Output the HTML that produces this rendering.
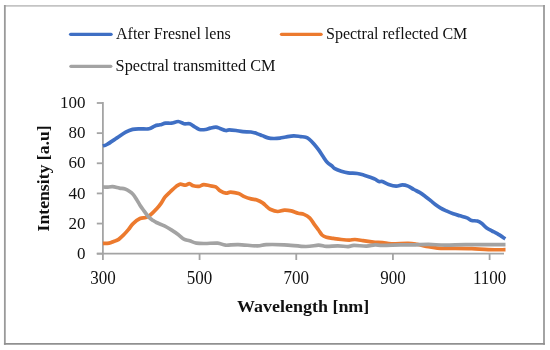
<!DOCTYPE html>
<html><head><meta charset="utf-8"><style>
html,body{margin:0;padding:0;background:#fff;width:550px;height:350px;overflow:hidden}
svg{display:block;will-change:transform}
text{font-family:"Liberation Serif",serif;fill:#111}
.lg{font-size:16px}
.tk{font-size:17px}
.at{font-size:17.2px;font-weight:bold}
</style></head><body>
<svg width="550" height="350" viewBox="0 0 550 350">
<line x1="3.95" y1="5.9" x2="544.9" y2="5.9" stroke="#c4c4c4" stroke-width="1.8"/>
<line x1="4.85" y1="5" x2="4.85" y2="344.8" stroke="#9a9a9a" stroke-width="1.8"/>
<line x1="544" y1="5" x2="544" y2="344.8" stroke="#9a9a9a" stroke-width="1.8"/>
<line x1="3.95" y1="343.9" x2="544.9" y2="343.9" stroke="#909090" stroke-width="1.8"/>
<line x1="70.6" y1="34.3" x2="111.1" y2="34.3" stroke="#3f6fc4" stroke-width="3.3" stroke-linecap="round"/>
<text x="116" y="38.8" class="lg">After Fresnel lens</text>
<line x1="281.5" y1="34.3" x2="321.1" y2="34.3" stroke="#ec7a2e" stroke-width="3.3" stroke-linecap="round"/>
<text x="326" y="38.8" class="lg">Spectral reflected CM</text>
<line x1="70.9" y1="66.3" x2="110.8" y2="66.3" stroke="#a3a3a3" stroke-width="3.3" stroke-linecap="round"/>
<text class="lg" transform="translate(115.6,71) scale(1.018,1)">Spectral transmitted CM</text>
<line x1="102.9" y1="102.1" x2="102.9" y2="253.7" stroke="#a4a4a4" stroke-width="1.8"/>
<line x1="96.8" y1="253.7" x2="504" y2="253.7" stroke="#a4a4a4" stroke-width="1.8"/>
<line x1="96.8" y1="103.00" x2="103" y2="103.00" stroke="#a4a4a4" stroke-width="1.8"/>
<text class="tk" text-anchor="end" transform="translate(85.5,108.10) scale(1,1.04)">100</text>
<line x1="96.8" y1="133.14" x2="103" y2="133.14" stroke="#a4a4a4" stroke-width="1.8"/>
<text class="tk" text-anchor="end" transform="translate(85.5,138.24) scale(1,1.04)">80</text>
<line x1="96.8" y1="163.28" x2="103" y2="163.28" stroke="#a4a4a4" stroke-width="1.8"/>
<text class="tk" text-anchor="end" transform="translate(85.5,168.38) scale(1,1.04)">60</text>
<line x1="96.8" y1="193.42" x2="103" y2="193.42" stroke="#a4a4a4" stroke-width="1.8"/>
<text class="tk" text-anchor="end" transform="translate(85.5,198.52) scale(1,1.04)">40</text>
<line x1="96.8" y1="223.56" x2="103" y2="223.56" stroke="#a4a4a4" stroke-width="1.8"/>
<text class="tk" text-anchor="end" transform="translate(85.5,228.66) scale(1,1.04)">20</text>
<line x1="96.8" y1="253.70" x2="103" y2="253.70" stroke="#a4a4a4" stroke-width="1.8"/>
<text class="tk" text-anchor="end" transform="translate(85.5,258.80) scale(1,1.04)">0</text>
<line x1="102.90" y1="253.7" x2="102.90" y2="260" stroke="#a4a4a4" stroke-width="1.8"/>
<text class="tk" text-anchor="middle" transform="translate(102.90,283.5) scale(1,1.05)">300</text>
<line x1="199.57" y1="253.7" x2="199.57" y2="260" stroke="#a4a4a4" stroke-width="1.8"/>
<text class="tk" text-anchor="middle" transform="translate(199.57,283.5) scale(1,1.05)">500</text>
<line x1="296.25" y1="253.7" x2="296.25" y2="260" stroke="#a4a4a4" stroke-width="1.8"/>
<text class="tk" text-anchor="middle" transform="translate(296.25,283.5) scale(1,1.05)">700</text>
<line x1="392.92" y1="253.7" x2="392.92" y2="260" stroke="#a4a4a4" stroke-width="1.8"/>
<text class="tk" text-anchor="middle" transform="translate(392.92,283.5) scale(1,1.05)">900</text>
<line x1="489.60" y1="253.7" x2="489.60" y2="260" stroke="#a4a4a4" stroke-width="1.8"/>
<text class="tk" text-anchor="middle" transform="translate(489.60,283.5) scale(1,1.05)">1100</text>
<text class="at" text-anchor="middle" transform="translate(303.2,312.3) scale(1.045,1)">Wavelength [nm]</text>
<text x="0" y="0" class="at" text-anchor="middle" transform="translate(49.3,178.4) rotate(-90) scale(1.03,1)">Intensity [a.u]</text>
<path d="M102.90,145.90 C103.57,145.67 104.55,145.83 106.90,144.50 C109.25,143.17 113.87,139.95 117.00,137.90 C120.13,135.85 123.10,133.62 125.70,132.20 C128.30,130.78 130.22,129.97 132.60,129.40 C134.98,128.83 137.27,128.90 140.00,128.80 C142.73,128.70 146.52,129.28 149.00,128.80 C151.48,128.32 153.07,126.57 154.90,125.90 C156.73,125.23 158.20,125.25 160.00,124.80 C161.80,124.35 163.80,123.47 165.70,123.20 C167.60,122.93 169.30,123.48 171.40,123.20 C173.50,122.92 176.20,121.40 178.30,121.50 C180.40,121.60 182.10,123.42 184.00,123.80 C185.90,124.18 187.98,123.33 189.70,123.80 C191.42,124.27 192.68,125.65 194.30,126.60 C195.92,127.55 197.50,129.02 199.40,129.50 C201.30,129.98 203.88,129.73 205.70,129.50 C207.52,129.27 208.58,128.48 210.30,128.10 C212.02,127.72 214.38,127.13 216.00,127.20 C217.62,127.27 218.38,127.95 220.00,128.50 C221.62,129.05 224.18,130.27 225.70,130.50 C227.22,130.73 227.38,129.90 229.10,129.90 C230.82,129.90 233.70,130.22 236.00,130.50 C238.30,130.78 240.42,131.35 242.90,131.60 C245.38,131.85 248.62,131.70 250.90,132.00 C253.18,132.30 254.70,132.80 256.60,133.40 C258.50,134.00 260.40,134.85 262.30,135.60 C264.20,136.35 266.10,137.42 268.00,137.90 C269.90,138.38 271.70,138.47 273.70,138.50 C275.70,138.53 278.00,138.35 280.00,138.10 C282.00,137.85 283.42,137.38 285.70,137.00 C287.98,136.62 291.22,135.87 293.70,135.80 C296.18,135.73 298.60,136.37 300.60,136.60 C302.60,136.83 304.28,136.78 305.70,137.20 C307.12,137.62 307.77,138.02 309.10,139.10 C310.43,140.18 312.17,141.98 313.70,143.70 C315.23,145.42 316.77,147.30 318.30,149.40 C319.83,151.50 321.38,154.10 322.90,156.30 C324.42,158.50 325.88,160.98 327.40,162.60 C328.92,164.22 330.83,165.03 332.00,166.00 C333.17,166.97 332.85,167.53 334.40,168.40 C335.95,169.27 339.02,170.45 341.30,171.20 C343.58,171.95 345.43,172.52 348.10,172.90 C350.77,173.28 354.63,173.12 357.30,173.50 C359.97,173.88 361.82,174.53 364.10,175.20 C366.38,175.87 369.18,176.85 371.00,177.50 C372.82,178.15 373.67,178.43 375.00,179.10 C376.33,179.77 377.77,181.10 379.00,181.50 C380.23,181.90 380.78,181.02 382.40,181.50 C384.02,181.98 386.42,183.63 388.70,184.40 C390.98,185.17 393.82,186.02 396.10,186.10 C398.38,186.18 400.40,184.90 402.40,184.90 C404.40,184.90 406.18,185.33 408.10,186.10 C410.02,186.87 411.98,188.45 413.90,189.50 C415.82,190.55 417.70,191.25 419.60,192.40 C421.50,193.55 423.40,194.98 425.30,196.40 C427.20,197.82 429.38,199.60 431.00,200.90 C432.62,202.20 433.38,203.00 435.00,204.20 C436.62,205.40 438.80,206.98 440.70,208.10 C442.60,209.22 444.30,209.95 446.40,210.90 C448.50,211.85 451.02,212.98 453.30,213.80 C455.58,214.62 457.82,215.12 460.10,215.80 C462.38,216.48 465.08,217.13 467.00,217.90 C468.92,218.67 469.88,219.87 471.60,220.40 C473.32,220.93 475.58,220.57 477.30,221.10 C479.02,221.63 480.33,222.45 481.90,223.60 C483.47,224.75 485.00,226.77 486.70,228.00 C488.40,229.23 490.33,230.05 492.10,231.00 C493.87,231.95 495.10,232.38 497.30,233.70 C499.50,235.02 503.97,238.03 505.30,238.90" fill="none" stroke="#3f6fc4" stroke-width="3.7" stroke-linejoin="round"/>
<path d="M102.90,243.40 C103.93,243.35 107.30,243.43 109.10,243.10 C110.90,242.77 112.17,241.98 113.70,241.40 C115.23,240.82 116.58,240.75 118.30,239.60 C120.02,238.45 122.28,236.20 124.00,234.50 C125.72,232.80 127.08,231.22 128.60,229.40 C130.12,227.58 131.20,225.42 133.10,223.60 C135.00,221.78 137.90,219.50 140.00,218.50 C142.10,217.50 143.98,218.18 145.70,217.60 C147.42,217.02 148.43,216.50 150.30,215.00 C152.17,213.50 155.05,210.62 156.90,208.60 C158.75,206.58 160.07,204.80 161.40,202.90 C162.73,201.00 163.37,199.10 164.90,197.20 C166.43,195.30 168.70,193.30 170.60,191.50 C172.50,189.70 174.68,187.63 176.30,186.40 C177.92,185.17 178.78,184.30 180.30,184.10 C181.82,183.90 183.88,185.27 185.40,185.20 C186.92,185.13 188.07,183.60 189.40,183.70 C190.73,183.80 191.78,185.35 193.40,185.80 C195.02,186.25 197.38,186.60 199.10,186.40 C200.82,186.20 201.88,184.70 203.70,184.60 C205.52,184.50 208.00,185.42 210.00,185.80 C212.00,186.18 213.98,186.05 215.70,186.90 C217.42,187.75 218.58,189.85 220.30,190.90 C222.02,191.95 224.28,193.00 226.00,193.20 C227.72,193.40 228.50,192.03 230.60,192.10 C232.70,192.17 236.32,192.85 238.60,193.60 C240.88,194.35 242.22,195.72 244.30,196.60 C246.38,197.48 249.00,198.32 251.10,198.90 C253.20,199.48 254.98,199.43 256.90,200.10 C258.82,200.77 260.90,201.77 262.60,202.90 C264.30,204.03 265.85,205.85 267.10,206.90 C268.35,207.95 268.35,208.43 270.10,209.20 C271.85,209.97 275.22,211.35 277.60,211.50 C279.98,211.65 282.12,210.20 284.40,210.10 C286.68,210.00 289.02,210.38 291.30,210.90 C293.58,211.42 296.00,212.62 298.10,213.20 C300.20,213.78 301.98,213.63 303.90,214.40 C305.82,215.17 307.90,216.18 309.60,217.80 C311.30,219.42 312.62,222.07 314.10,224.10 C315.58,226.13 317.18,228.18 318.50,230.00 C319.82,231.82 320.68,233.78 322.00,235.00 C323.32,236.22 324.52,236.73 326.40,237.30 C328.28,237.87 330.82,238.03 333.30,238.40 C335.78,238.77 338.63,239.22 341.30,239.50 C343.97,239.78 347.02,240.10 349.30,240.10 C351.58,240.10 352.72,239.42 355.00,239.50 C357.28,239.58 360.52,240.25 363.00,240.60 C365.48,240.95 367.90,241.32 369.90,241.60 C371.90,241.88 372.88,242.15 375.00,242.30 C377.12,242.45 379.85,242.25 382.60,242.50 C385.35,242.75 387.25,243.67 391.50,243.80 C395.75,243.93 403.85,243.22 408.10,243.30 C412.35,243.38 413.60,243.72 417.00,244.30 C420.40,244.88 425.10,246.17 428.50,246.80 C431.90,247.43 434.65,247.82 437.40,248.10 C440.15,248.38 442.02,248.45 445.00,248.50 C447.98,248.55 450.83,248.37 455.30,248.40 C459.77,248.43 466.28,248.48 471.80,248.70 C477.32,248.92 482.78,249.53 488.40,249.70 C494.02,249.87 502.65,249.70 505.50,249.70" fill="none" stroke="#ec7a2e" stroke-width="3.7" stroke-linejoin="round"/>
<path d="M102.90,186.90 C103.57,186.95 105.28,187.23 106.90,187.20 C108.52,187.17 110.52,186.55 112.60,186.70 C114.68,186.85 117.32,187.72 119.40,188.10 C121.48,188.48 123.38,188.43 125.10,189.00 C126.82,189.57 128.37,190.60 129.70,191.50 C131.03,192.40 131.95,193.07 133.10,194.40 C134.25,195.73 135.45,197.70 136.60,199.50 C137.75,201.30 138.77,203.30 140.00,205.20 C141.23,207.10 142.77,209.18 144.00,210.90 C145.23,212.62 146.47,214.33 147.40,215.50 C148.33,216.67 148.73,217.12 149.60,217.90 C150.47,218.68 151.47,219.43 152.60,220.20 C153.73,220.97 154.43,221.55 156.40,222.50 C158.37,223.45 161.92,224.67 164.40,225.90 C166.88,227.13 169.02,228.47 171.30,229.90 C173.58,231.33 176.00,232.97 178.10,234.50 C180.20,236.03 181.98,238.05 183.90,239.10 C185.82,240.15 187.52,240.13 189.60,240.80 C191.68,241.47 193.83,242.65 196.40,243.10 C198.97,243.55 201.43,243.50 205.00,243.50 C208.57,243.50 214.38,242.82 217.80,243.10 C221.22,243.38 222.10,244.95 225.50,245.20 C228.90,245.45 232.90,244.48 238.20,244.60 C243.50,244.72 252.63,245.90 257.30,245.90 C261.97,245.90 261.73,244.78 266.20,244.60 C270.67,244.42 277.52,244.48 284.10,244.80 C290.68,245.12 299.97,246.43 305.70,246.50 C311.43,246.57 315.05,245.22 318.50,245.20 C321.95,245.18 323.17,246.30 326.40,246.40 C329.63,246.50 334.28,245.77 337.90,245.80 C341.52,245.83 345.43,246.67 348.10,246.60 C350.77,246.53 350.85,245.48 353.90,245.40 C356.95,245.32 362.88,246.18 366.40,246.10 C369.92,246.02 372.30,245.03 375.00,244.90 C377.70,244.77 378.35,245.30 382.60,245.30 C386.85,245.30 395.40,244.97 400.50,244.90 C405.60,244.83 408.53,244.98 413.20,244.90 C417.87,244.82 423.20,244.37 428.50,244.40 C433.80,244.43 438.83,245.07 445.00,245.10 C451.17,245.13 457.85,244.68 465.50,244.60 C473.15,244.52 484.23,244.60 490.90,244.60 C497.57,244.60 503.07,244.60 505.50,244.60" fill="none" stroke="#a3a3a3" stroke-width="3.7" stroke-linejoin="round"/>
</svg>
</body></html>
